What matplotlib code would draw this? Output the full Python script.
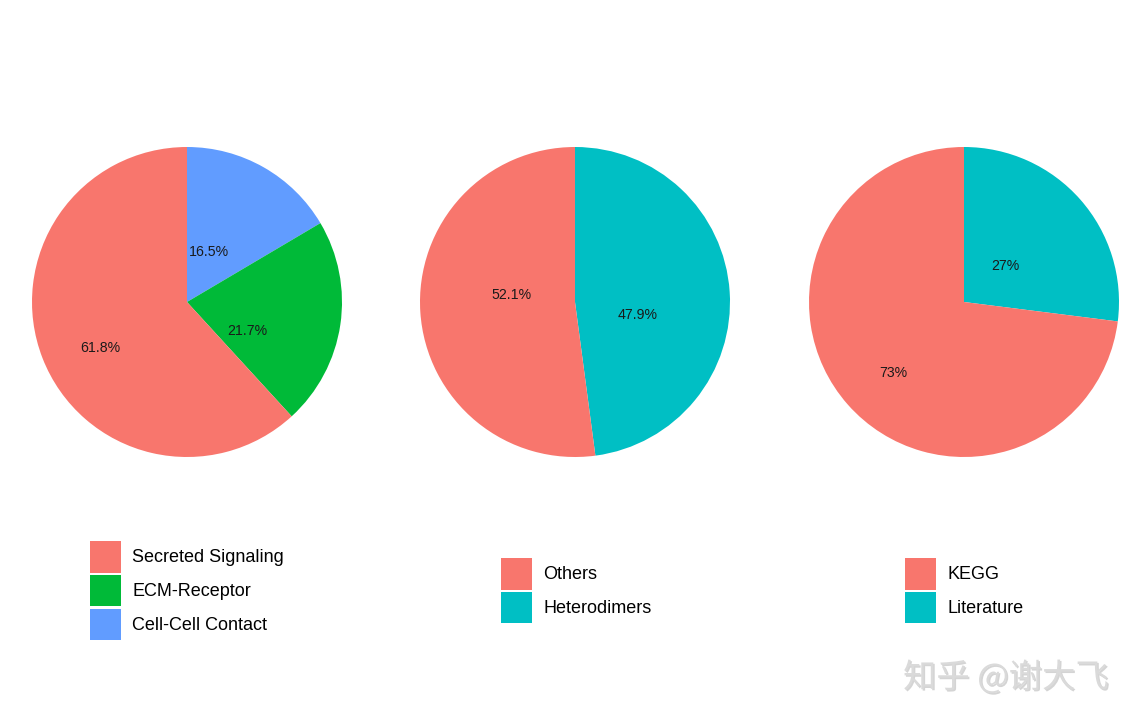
import matplotlib
matplotlib.use("Agg")
import matplotlib.pyplot as plt
from matplotlib.patches import Patch
import matplotlib.patheffects as pe
import numpy as np

plt.rcParams['font.family'] = ['Liberation Sans', 'DejaVu Sans']

# ---- data ----
pie1_labels = ["Secreted Signaling", "ECM-Receptor", "Cell-Cell Contact"]
pie1_values = [61.8, 21.7, 16.5]
pie1_text = ["61.8%", "21.7%", "16.5%"]

pie2_labels = ["Others", "Heterodimers"]
pie2_values = [52.1, 47.9]
pie2_text = ["52.1%", "47.9%"]

pie3_labels = ["KEGG", "Literature"]
pie3_values = [73.0, 27.0]
pie3_text = ["73%", "27%"]

RED, GREEN, BLUE, TEAL = "#F8766D", "#00BA38", "#619CFF", "#00BFC4"
pie1_colors = [RED, GREEN, BLUE]
pie2_colors = [RED, TEAL]
pie3_colors = [RED, TEAL]

# label placement (radius fraction, angle shift in degrees) per slice
pie1_lab = [(0.63, -6), (0.43, 16), (0.36, -6)]
pie2_lab = [(0.41, 11), (0.41, 14)]
pie3_lab = [(0.64, -3), (0.36, 0)]

W, H = 1141, 723
fig = plt.figure(figsize=(W / 100, H / 100), dpi=100)
fig.patch.set_facecolor("white")

centers_x = [187, 575, 964]
cy = 302
R = 155

pies = [
    (pie1_labels, pie1_values, pie1_text, pie1_colors, pie1_lab),
    (pie2_labels, pie2_values, pie2_text, pie2_colors, pie2_lab),
    (pie3_labels, pie3_values, pie3_text, pie3_colors, pie3_lab),
]

legend_pos = [(90, 541), (501, 558), (905, 558)]

for (labels, vals, texts, cols, lab), cx, (lx, ly) in zip(pies, centers_x, legend_pos):
    ax = fig.add_axes([(cx - R) / W, 1 - (cy + R) / H, 2 * R / W, 2 * R / H])
    # clockwise from 12 o'clock, last category first (ggplot stacking)
    v = np.array(vals[::-1])
    c = cols[::-1]
    ax.pie(v, colors=c, startangle=90, counterclock=False, radius=1,
           wedgeprops=dict(linewidth=0))
    ax.set_xlim(-1, 1)
    ax.set_ylim(-1, 1)
    ax.set_aspect("equal")
    ax.axis("off")
    frac = v / v.sum()
    cum = np.cumsum(frac) - frac / 2
    lab_r = lab[::-1]
    for t, m, (rr, sh) in zip(texts[::-1], cum, lab_r):
        ang = np.deg2rad(90 - (m * 360 + sh))
        ax.text(rr * np.cos(ang), rr * np.sin(ang) - 0.008, t, ha="center", va="center",
                fontsize=10.2, color="#1a1a1a")
    handles = [Patch(facecolor=col, edgecolor="none") for col in cols]
    fig.legend(handles, labels, loc="upper left",
               bbox_to_anchor=(lx / W, 1 - ly / H), frameon=False,
               fontsize=13, handlelength=1.72, handleheight=2.32,
               handletextpad=0.62, labelspacing=0.12, borderpad=0,
               borderaxespad=0)

fig.text(1006 / W, 1 - 678 / H, "知乎 @谢大飞", ha="center", va="center",
         fontsize=24, color="#dadada",
         family=["Noto Sans CJK SC", "DejaVu Sans"],
         path_effects=[pe.SimplePatchShadow(offset=(1.0, -1.0), shadow_rgbFace="#b8b8b8", alpha=0.6),
                       pe.Normal()])

fig.savefig("out.png", dpi=100, facecolor="white")
